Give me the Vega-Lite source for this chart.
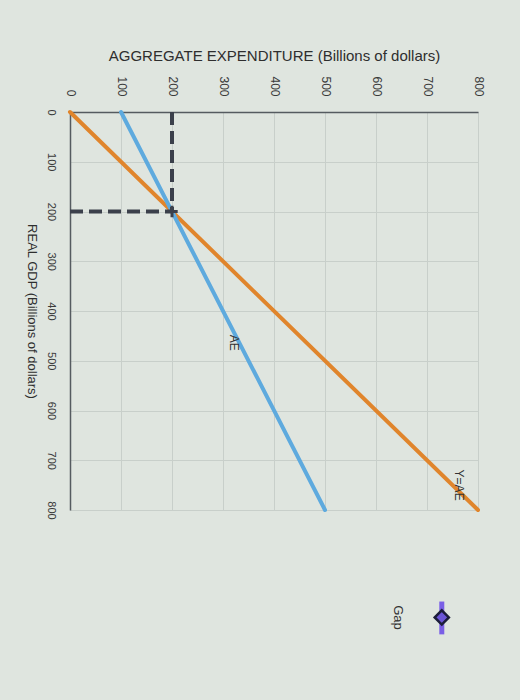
{
  "$schema": "https://vega.github.io/schema/vega-lite/v6.json",
  "autosize": "none",
  "width": 408,
  "height": 398,
  "padding": {"left": 70, "top": 112, "right": 42, "bottom": 190},
  "background": "#dfe5df",
  "datasets": {
    "lines": [
      {"series": "Y=AE", "gdp": 0, "ae": 0},
      {"series": "Y=AE", "gdp": 800, "ae": 800},
      {"series": "AE", "gdp": 0, "ae": 100},
      {"series": "AE", "gdp": 800, "ae": 500}
    ],
    "guides": [
      {"ae": 200, "gdp": 0, "ae2": 200, "gdp2": 200},
      {"ae": 0, "gdp": 200, "ae2": 200, "gdp2": 200}
    ],
    "labels": [
      {"label": "AE", "ae": 322, "gdp": 464},
      {"label": "Y=AE", "ae": 762, "gdp": 750}
    ],
    "gap": [
      {"label": "Gap", "ae": 643, "gdp": 1016, "gdp2": 1050, "gdp1": 984, "mark_ae": 729}
    ]
  },
  "encoding": {
    "x": {
      "field": "ae", "type": "quantitative",
      "scale": {"domain": [0, 800], "nice": false},
      "axis": {
        "orient": "top", "values": [0, 100, 200, 300, 400, 500, 600, 700, 800],
        "title": "AGGREGATE EXPENDITURE (Billions of dollars)",
        "labelAngle": 90, "labelPadding": 16, "titlePadding": 12,
        "titleFontSize": 15, "labelFontSize": 12
      }
    },
    "y": {
      "field": "gdp", "type": "quantitative",
      "scale": {"domain": [0, 800], "nice": false, "reverse": true},
      "axis": {
        "orient": "left", "values": [0, 100, 200, 300, 400, 500, 600, 700, 800],
        "title": "REAL GDP (Billions of dollars)",
        "labelAngle": 90, "labelPadding": 14, "titleAngle": 90, "titleBaseline": "top", "titlePadding": 8,
        "titleFontSize": 13, "labelFontSize": 11
      }
    }
  },
  "layer": [
    {
      "data": {"name": "lines"},
      "mark": {"type": "line", "strokeWidth": 4, "strokeCap": "round"},
      "encoding": {
        "order": {"field": "gdp"},
        "color": {
          "field": "series", "type": "nominal", "legend": null,
          "scale": {"domain": ["Y=AE", "AE"], "range": ["#e0852c", "#5eaade"]}
        }
      }
    },
    {
      "data": {"name": "guides"},
      "mark": {"type": "rule", "color": "#3b404b", "strokeWidth": 4, "strokeDash": [13, 6]},
      "encoding": {"x2": {"field": "ae2"}, "y2": {"field": "gdp2"}}
    },
    {
      "data": {"values": [{"ae": 200, "gdp": 200}]},
      "mark": {"type": "point", "shape": "M-1,0L1,0M0,-1L0,1", "filled": false, "color": "#3b404b", "strokeWidth": 3, "size": 130, "opacity": 1}
    },
    {
      "data": {"name": "labels"},
      "mark": {"type": "text", "angle": 90, "fontSize": 12, "color": "#333", "font": "Liberation Sans"},
      "encoding": {"text": {"field": "label"}}
    },
    {
      "data": {"name": "gap"},
      "mark": {"type": "text", "angle": 90, "fontSize": 13, "color": "#333", "font": "Liberation Sans"},
      "encoding": {"text": {"field": "label"}}
    },
    {
      "data": {"name": "gap"},
      "mark": {"type": "rule", "color": "#7a5fe6", "strokeWidth": 5},
      "encoding": {"x": {"field": "mark_ae", "type": "quantitative"}, "y": {"field": "gdp1", "type": "quantitative"}, "y2": {"field": "gdp2"}}
    },
    {
      "data": {"name": "gap"},
      "mark": {"type": "point", "shape": "diamond", "filled": true, "color": "#6b55d6", "stroke": "#1c1d3a", "strokeWidth": 2.5, "size": 200, "opacity": 1},
      "encoding": {"x": {"field": "mark_ae", "type": "quantitative"}, "y": {"field": "gdp", "type": "quantitative"}}
    }
  ],
  "config": {
    "view": {"stroke": null},
    "font": "Liberation Sans",
    "axis": {
      "ticks": false, "grid": true, "gridColor": "#c8cfca", "gridWidth": 1,
      "domainColor": "#555b60", "domainWidth": 1.5,
      "labelColor": "#3a3a3a", "titleColor": "#2e2e2e", "titleFontWeight": "normal",
      "labelFont": "Liberation Sans", "titleFont": "Liberation Sans"
    }
  }
}
